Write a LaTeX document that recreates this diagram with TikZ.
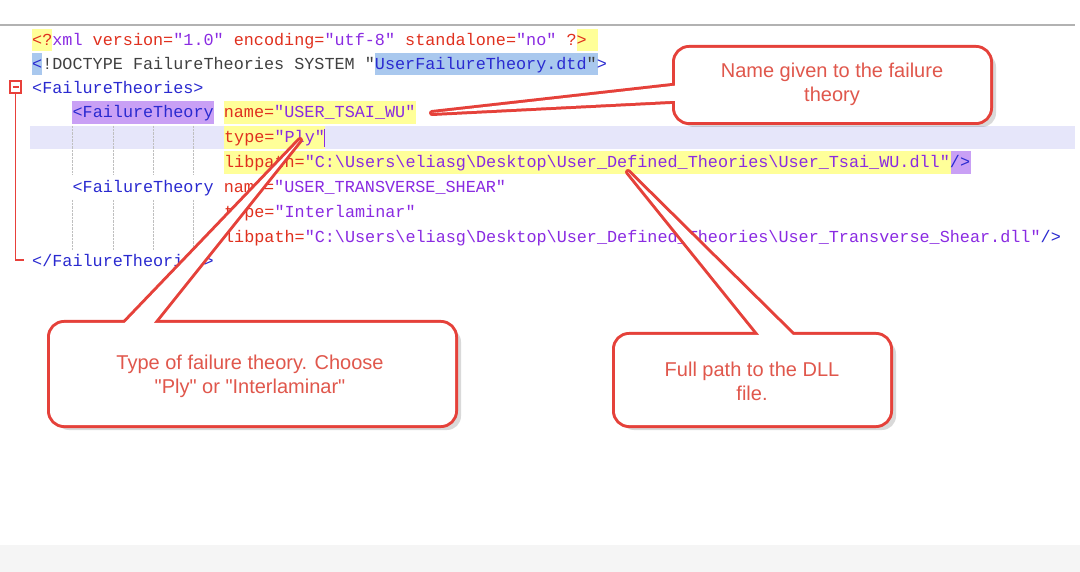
\documentclass[tikz,border=0pt]{standalone}
\usepackage{fontspec}
\setmainfont{Liberation Sans}
\newfontfamily\codefont{Liberation Mono}
\usetikzlibrary{calc}
\definecolor{tagb}{HTML}{2A2AD0}
\definecolor{attr}{HTML}{E0301E}
\definecolor{val}{HTML}{8A2BE2}
\definecolor{cred}{HTML}{E5413A}
\definecolor{ctext}{HTML}{E0574C}
\definecolor{hyel}{HTML}{FFFF99}
\definecolor{hpur}{HTML}{C9A0F5}
\definecolor{hblu}{HTML}{A9C8EE}
\definecolor{hlin}{HTML}{E6E6FA}
\definecolor{fold}{HTML}{E8403A}
\newcommand\bs{\textbackslash}
\newcommand\qq{\textquotedbl}
\begin{document}
\begin{tikzpicture}[x=1pt,y=-1pt,
  code/.style={anchor=base west,inner sep=0pt,font=\codefont\fontsize{16.8}{20}\selectfont},
  ctxt/.style={align=center,text=ctext,font=\fontsize{20}{24}\selectfont,inner sep=0pt},
  cbox/.style={rounded corners=14pt}]
\useasboundingbox (0,0) rectangle (1080,572);
\fill[white] (0,0) rectangle (1080,572);
\fill[gray!8] (0,545) rectangle (1080,572);
\draw[gray!60,line width=1.5pt] (0,25) -- (1075,25);
% line highlight
\fill[hlin] (30,126) rectangle (1075,149);
% token highlights (col width 10.1)
\def\cw{10.1}
\fill[hyel] (32,29) rectangle (32+2*\cw,51);
\fill[hyel] (32+54*\cw,29) rectangle (32+56*\cw,51);
\fill[hblu] (32,53) rectangle (32+1*\cw,75);
\fill[hblu] (32+34*\cw,53) rectangle (32+56*\cw,75);
\fill[hpur] (32+4*\cw,101) rectangle (32+18*\cw,124);
\fill[hyel] (32+19*\cw,101) rectangle (32+38*\cw,124);
\fill[hyel] (32+19*\cw,126) rectangle (32+29*\cw,149);
\fill[hyel] (32+19*\cw,151) rectangle (32+91*\cw,174);
\fill[hpur] (32+91*\cw,151) rectangle (32+93*\cw,174);
% indent guides
\foreach \c in {4,8,12,16}{
  \draw[gray!50,densely dotted] (32+\c*\cw,126) -- (32+\c*\cw,174);
  \draw[gray!50,densely dotted] (32+\c*\cw,200) -- (32+\c*\cw,250);
}
% fold marker
\draw[fold,line width=1.4pt] (10,81) rectangle (21,93);
\draw[fold,line width=1.4pt] (12.5,87) -- (18.5,87);
\draw[fold,line width=1.4pt] (15.5,93) -- (15.5,260) -- (24,260);
% cursor
\draw[val,line width=1pt] (32+29*\cw,129) -- (32+29*\cw,147);
% code lines
\node[code] (l1) at (32,46) {\textcolor{attr}{<?}\textcolor{val}{xml} \textcolor{attr}{version=}\textcolor{val}{"1.0"} \textcolor{attr}{encoding=}\textcolor{val}{"utf-8"} \textcolor{attr}{standalone=}\textcolor{val}{"no"} \textcolor{attr}{?>}};
\node[code] (l2) at (32,70) {\textcolor{tagb}{<}\textcolor{black!75}{!DOCTYPE FailureTheories SYSTEM "}\textcolor{tagb}{UserFailureTheory.dtd}\textcolor{black!75}{"}\textcolor{tagb}{>}};
\node[code,text=tagb] (l3) at (32,94) {<FailureTheories>};
\node[code] (l4) at (32+4*\cw,118) {\textcolor{tagb}{<FailureTheory} \textcolor{attr}{name=}\textcolor{val}{"USER\_TSAI\_WU"}};
\node[code] (l5) at (32+19*\cw,143) {\textcolor{attr}{type=}\textcolor{val}{"Ply"}};
\node[code] (l6) at (32+19*\cw,168) {\textcolor{attr}{libpath=}\textcolor{val}{"C:\bs Users\bs eliasg\bs Desktop\bs User\_Defined\_Theories\bs User\_Tsai\_WU.dll"}\textcolor{tagb}{/>}};
\node[code] (l7) at (32+4*\cw,193) {\textcolor{tagb}{<FailureTheory} \textcolor{attr}{name=}\textcolor{val}{"USER\_TRANSVERSE\_SHEAR"}};
\node[code] (l8) at (32+19*\cw,218) {\textcolor{attr}{type=}\textcolor{val}{"Interlaminar"}};
\node[code] (l9) at (32+19*\cw,243) {\textcolor{attr}{libpath=}\textcolor{val}{"C:\bs Users\bs eliasg\bs Desktop\bs User\_Defined\_Theories\bs User\_Transverse\_Shear.dll"}\textcolor{tagb}{/>}};
\node[code,text=tagb] (l10) at (32,267) {</FailureTheories>};
% callout geometry
\coordinate (t1) at (432,113);
\coordinate (a1) at (690,84); \coordinate (b1) at (690,100);
\coordinate (t2) at (300,140);
\coordinate (a2) at (118,330); \coordinate (b2) at (148,330);
\coordinate (t3) at (628,172);
\coordinate (a3) at (765,342); \coordinate (b3) at (800,342);
% shadows
\fill[black,opacity=0.15,cbox] (680,53) rectangle (996,127);
\fill[black,opacity=0.15,cbox] (55,328) rectangle (461,430);
\fill[black,opacity=0.15,cbox] (620,340) rectangle (896,430);
% outlines
\begin{scope}[draw=cred,line width=6pt,line join=round]
\draw[cbox] (675,48) rectangle (990,122);
\draw (a1) -- (t1) -- (b1) -- cycle;
\draw[cbox] (50,323) rectangle (455,425);
\draw (a2) -- (t2) -- (b2) -- cycle;
\draw[cbox] (615,335) rectangle (890,425);
\draw (a3) -- (t3) -- (b3) -- cycle;
\end{scope}
% fills
\begin{scope}[fill=white]
\fill[cbox] (675,48) rectangle (990,122);
\fill (a1) -- (t1) -- (b1) -- cycle;
\fill[cbox] (50,323) rectangle (455,425);
\fill (a2) -- (t2) -- (b2) -- cycle;
\fill[cbox] (615,335) rectangle (890,425);
\fill (a3) -- (t3) -- (b3) -- cycle;
\end{scope}
\node[ctxt] (c1) at (832,84) {Name given to the failure\\theory};
\node[ctxt] (c2) at (250,376) {Type of failure theory. Choose\\\qq Ply\qq{} or \qq Interlaminar\qq};
\node[ctxt] (c3) at (752,381) {Full path to the DLL\\file.};
\end{tikzpicture}
\end{document}
